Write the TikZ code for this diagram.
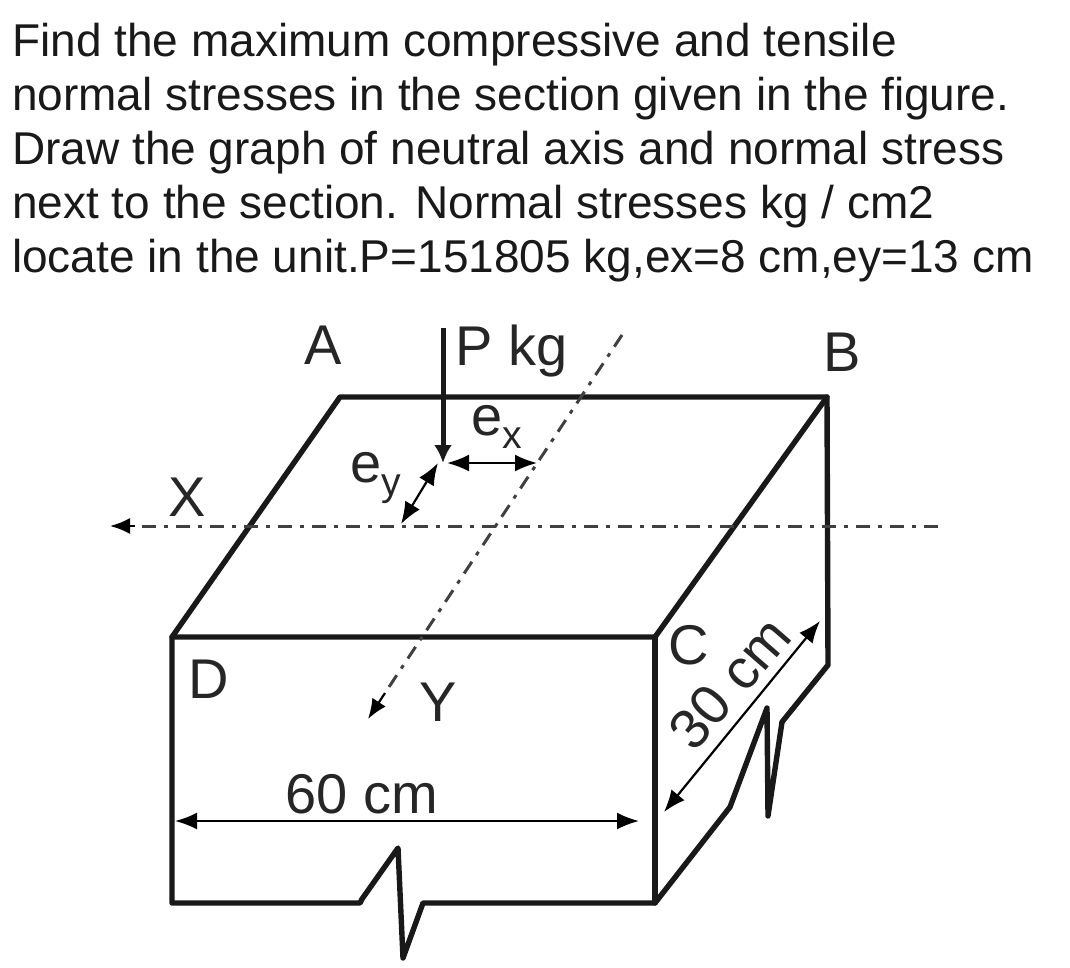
\documentclass[tikz,border=0pt]{standalone}
\usepackage{fontspec}
\setmainfont{Liberation Sans}
\usetikzlibrary{arrows.meta}
\begin{document}
\begin{tikzpicture}[x=1pt,y=-1pt,
        edge/.style={line width=5.4pt,line join=round,line cap=round,black!90},
        axisline/.style={line width=3pt,dash pattern=on 14pt off 8pt on 4pt off 8pt,black!75},
        dimline/.style={line width=2.2pt,{Latex[length=22pt,width=17pt]}-{Latex[length=22pt,width=17pt]}},
        axistip/.style={line width=2.2pt,-{Latex[length=20pt,width=16pt]}},
        question/.style={anchor=north west,inner sep=0pt,align=left,font=\fontsize{46}{54}\selectfont,black!90},
        label/.style={inner sep=0pt,font=\fontsize{56}{56}\selectfont,black!85}]
        \useasboundingbox (0,0) rectangle (1070,968);
        \node[question] (task) at (12,23) {Find the maximum compressive and tensile\\
            normal stresses in the section given in the figure.\\
            Draw the graph of neutral axis and normal stress\\
            next to the section. Normal stresses kg / cm2\\
            locate in the unit.P=151805 kg,ex=8 cm,ey=13 cm};
        % Corners of the block
        \coordinate (a) at (340,397);
        \coordinate (b) at (827,397);
        \coordinate (c) at (655,637);
        \coordinate (d) at (172,637);
        \coordinate (e) at (172,903);
        \coordinate (f) at (655,903);
        \coordinate (g) at (828,665);
        \draw[edge] (d) -- (a) -- (b) -- (g) -- (782,722) -- (768,816) -- (767,708) -- (730,807) -- (f)
            -- (423,903) -- (403,958) -- (398,848) -- (362,899) -- (360,903) -- (e) -- cycle;
        \draw[edge] (d) -- (c) -- (b);
        \draw[edge] (c) -- (f);
        % Axes
        \coordinate (xend) at (938,526);
        \coordinate (xmid) at (135,526);
        \coordinate (xtip) at (110,526);
        \coordinate (ytop) at (622,335);
        \coordinate (ymid) at (385,693);
        \coordinate (ytip) at (368,719);
        \draw[axisline] (xend) -- (xmid);
        \draw[axisline] (ytop) -- (ymid);
        \draw[axistip] (xmid) -- (xtip);
        \draw[axistip] (ymid) -- (ytip);
        % Load and eccentricities
        \coordinate (ptop) at (443,328);
        \coordinate (pt) at (443,463);
        \draw[line width=5pt,-{Latex[length=18pt,width=18pt]},black!90] (ptop) -- (pt);
        \coordinate (exa) at (447,463);
        \coordinate (exb) at (537,463);
        \coordinate (eya) at (438,463);
        \coordinate (eyb) at (401,524);
        \draw[dimline] (exa) -- (exb);
        \draw[dimline] (eya) -- (eyb);
        % Dimensions
        \coordinate (wa) at (175,821);
        \coordinate (wb) at (639,821);
        \coordinate (da) at (664,812);
        \coordinate (db) at (820,621);
        \draw[dimline] (wa) -- (wb);
        \draw[dimline] (da) -- (db);
        % Labels
        \node[label] (la) at (323,345) {A};
        \node[label] (lb) at (842,352) {B};
        \node[label] (lc) at (689,645) {C};
        \node[label] (ld) at (209,679) {D};
        \node[label] (lp) at (512,351) {P kg};
        \node[label] (lx) at (187,497) {X};
        \node[label] (ly) at (438,702) {Y};
        \node[label] (lex) at (497,427) {e\textsubscript{x}};
        \node[label] (ley) at (376,478) {e\textsubscript{y}};
        \node[label] (lw) at (362,794) {60 cm};
        \node[label,rotate=49] (ld2) at (730,683) {30 cm};
\end{tikzpicture}
\end{document}
